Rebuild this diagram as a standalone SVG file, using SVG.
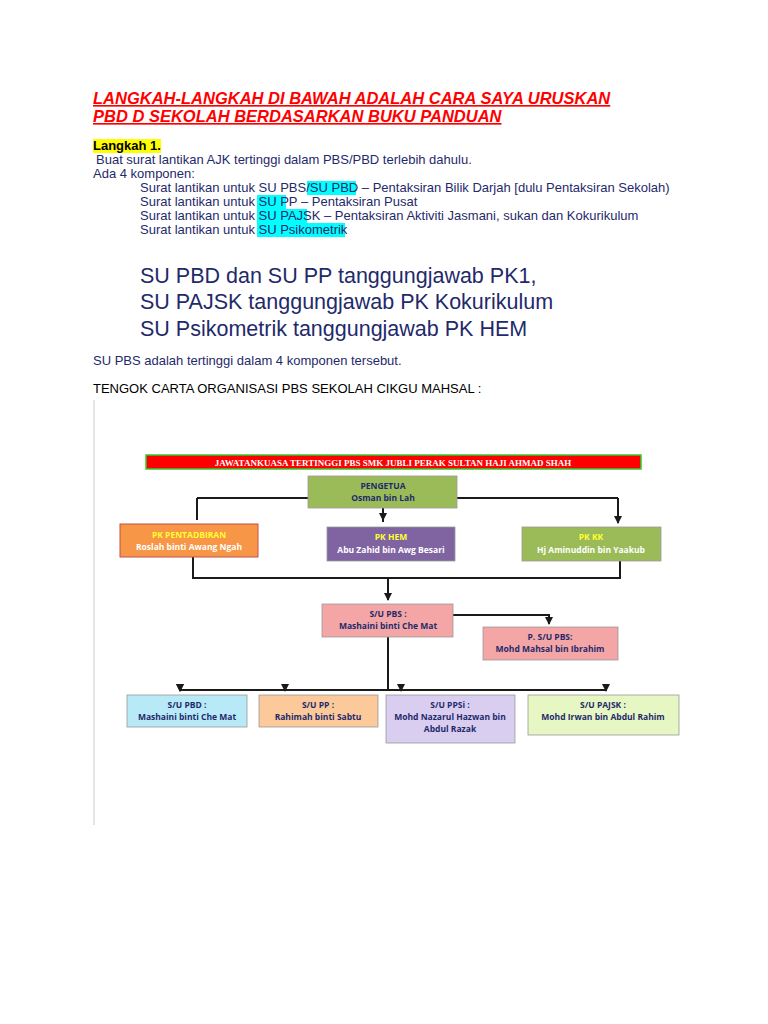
<svg xmlns="http://www.w3.org/2000/svg" width="768" height="1024" viewBox="0 0 768 1024">
<style>
.t{font-family:"Liberation Sans",Arial,sans-serif;font-size:13px;fill:#1f2a6b}
.big{font-family:"Liberation Sans",Arial,sans-serif;font-size:21.5px;fill:#1f2a6b}
.n{font-family:"Open Sans","DejaVu Sans",sans-serif;font-size:8.5px;font-weight:bold;text-anchor:middle;fill:#1f2a6b}
.w{fill:#fff}
.y{fill:#ffff33}
.c{stroke:#1a1a1a;stroke-width:2;fill:none}
.b{stroke:#999;stroke-width:0.8}
</style>
<defs><marker id="a" markerWidth="6" markerHeight="6" refX="3" refY="5" orient="auto" markerUnits="userSpaceOnUse"><path d="M0,0 L6,0 L3,6z" fill="#1a1a1a" transform="rotate(-90 3 3)"/></marker>
<marker id="d" markerWidth="8" markerHeight="8" refX="4" refY="7" markerUnits="userSpaceOnUse"><path d="M0,0 L8,0 L4,8z" fill="#1a1a1a"/></marker></defs>
<rect width="768" height="1024" fill="#fff"/>
<g font-family="Liberation Sans,Arial,sans-serif" font-weight="bold" font-style="italic" font-size="16.5" fill="#ff0000" text-decoration="underline">
<text x="93" y="104">LANGKAH-LANGKAH DI BAWAH ADALAH CARA SAYA URUSKAN </text>
<text x="93" y="122">PBD D SEKOLAH BERDASARKAN BUKU PANDUAN</text>
</g>
<rect x="93" y="139" width="68" height="14" fill="#ffff00"/>
<text x="93" y="150" class="t" font-weight="bold" style="fill:#000">Langkah 1.</text>
<text x="96" y="164" class="t"> Buat surat lantikan AJK tertinggi dalam PBS/PBD terlebih dahulu.</text>
<text x="93" y="178" class="t">Ada 4 komponen:</text>
<rect x="307" y="181" width="49" height="14" fill="#00ffff"/>
<rect x="257" y="195" width="29" height="14" fill="#00ffff"/>
<rect x="257" y="209" width="50" height="14" fill="#00ffff"/>
<rect x="257" y="223" width="88" height="14" fill="#00ffff"/>
<text x="140" y="192" class="t">Surat lantikan untuk SU PBS/SU PBD – Pentaksiran Bilik Darjah [dulu Pentaksiran Sekolah)</text>
<text x="140" y="206" class="t">Surat lantikan untuk SU PP – Pentaksiran Pusat</text>
<text x="140" y="220" class="t">Surat lantikan untuk SU PAJSK – Pentaksiran Aktiviti Jasmani, sukan dan Kokurikulum</text>
<text x="140" y="234" class="t">Surat lantikan untuk SU Psikometrik</text>
<text x="140" y="283" class="big">SU PBD dan SU PP tanggungjawab PK1,</text>
<text x="140" y="309" class="big">SU PAJSK tanggungjawab PK Kokurikulum</text>
<text x="140" y="336" class="big">SU Psikometrik tanggungjawab PK HEM</text>
<text x="93" y="365" class="t">SU PBS adalah tertinggi dalam 4 komponen tersebut.</text>
<text x="93" y="393" class="t" style="fill:#000">TENGOK CARTA ORGANISASI PBS SEKOLAH CIKGU MAHSAL :</text>
<line x1="94" y1="400" x2="94" y2="825" stroke="#ddd" stroke-width="1.5"/>
<g id="connectors">
<path class="c" d="M383,508 V522 M197,498 H618 M197,498 V520 M618,498 V523" marker-end="url(#d)"/>
<path class="c" d="M383,498 V520" marker-end="url(#d)"/>
<path class="c" d="M193,557 V578 H620 V561"/>
<path class="c" d="M388,578 V600" marker-end="url(#d)"/>
<path class="c" d="M453,615 H549 V624" marker-end="url(#d)"/>
<path class="c" d="M388,637 V690 H606"/>
<path class="c" d="M180,690 H388"/>
<path class="c" d="M180,690 V690" />
<path class="c" d="M180,689 V689"/>
<path class="c" d="M180,690 V690"/>
<path class="c" d="M180,689 L180,689"/>
</g>
<g id="arrows-bottom" class="c">
<path class="c" d="M180,689 V691" marker-end="url(#d)"/>
</g>
<g id="banner"><rect x="146" y="455" width="495" height="14" fill="#ff0000" stroke="#33cc33" stroke-width="1.5"/>
<text x="393" y="466" text-anchor="middle" font-family="Liberation Serif,serif" font-weight="bold" font-size="9" fill="#fff">JAWATANKUASA TERTINGGI PBS SMK JUBLI PERAK SULTAN HAJI AHMAD SHAH</text></g>
<g id="pengetua"><rect x="308" y="476" width="149" height="32" fill="#9bbb59" class="b"/>
<text x="383" y="489" class="n">PENGETUA</text><text x="383" y="501" class="n">Osman bin Lah</text></g>
<g id="pk1"><rect x="120" y="524" width="138" height="33" fill="#f79646" stroke="#c0504d"/>
<text x="189" y="538" class="n y">PK PENTADBIRAN</text><text x="189" y="550" class="n w">Roslah binti Awang Ngah</text></g>
<g id="pkhem"><rect x="327" y="527" width="128" height="34" fill="#8064a2" class="b"/>
<text x="391" y="540" class="n y">PK HEM</text><text x="391" y="553" class="n w">Abu Zahid bin Awg Besari</text></g>
<g id="pkkk"><rect x="522" y="527" width="139" height="34" fill="#9bbb59" class="b"/>
<text x="591" y="540" class="n y">PK KK</text><text x="591" y="553" class="n w">Hj Aminuddin bin Yaakub</text></g>
<g id="supbs"><rect x="322" y="604" width="131" height="33" fill="#f4a6a6" class="b"/>
<text x="388" y="617" class="n">S/U PBS :</text><text x="388" y="629" class="n">Mashaini binti Che Mat</text></g>
<g id="psupbs"><rect x="483" y="627" width="135" height="33" fill="#f4a6a6" class="b"/>
<text x="550" y="640" class="n">P. S/U PBS:</text><text x="550" y="652" class="n">Mohd Mahsal bin Ibrahim</text></g>
<g class="c"><path class="c" d="M180,690 V690"/></g>
<g id="bottom-arrows">
<path class="c" d="M180,690 V689"/>
</g>
<g id="conn2"><path class="c" d="M180,689 V689"/></g>
<g id="conn3">
<path d="M180,690 V691" class="c" marker-end="url(#d)"/>
<path d="M285,690 V691" class="c" marker-end="url(#d)"/>
<path d="M401,690 V691" class="c" marker-end="url(#d)"/>
<path d="M606,690 V691" class="c" marker-end="url(#d)"/>
</g>
<g id="supbd"><rect x="127" y="695" width="120" height="32" fill="#b7e9f7" class="b"/>
<text x="187" y="708" class="n">S/U PBD :</text><text x="187" y="720" class="n">Mashaini binti Che Mat</text></g>
<g id="supp"><rect x="259" y="695" width="119" height="32" fill="#fbc99a" class="b"/>
<text x="318" y="708" class="n">S/U PP :</text><text x="318" y="720" class="n">Rahimah binti Sabtu</text></g>
<g id="suppsi"><rect x="386" y="695" width="129" height="48" fill="#d9cdf0" class="b"/>
<text x="450" y="708" class="n">S/U PPSi :</text><text x="450" y="720" class="n">Mohd Nazarul Hazwan bin</text><text x="450" y="732" class="n">Abdul Razak</text></g>
<g id="supajsk"><rect x="528" y="695" width="151" height="40" fill="#e6f7c4" class="b"/>
<text x="603" y="708" class="n">S/U PAJSK :</text><text x="603" y="720" class="n">Mohd Irwan bin Abdul Rahim</text></g>
</svg>
